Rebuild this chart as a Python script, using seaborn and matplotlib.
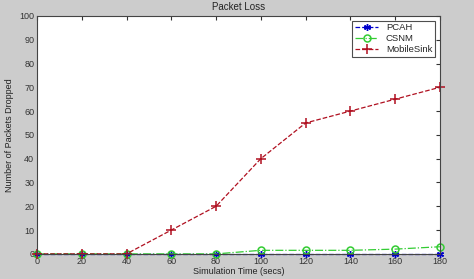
import matplotlib
matplotlib.use("Agg")
import matplotlib.pyplot as plt
import seaborn as sns
import pandas as pd

# data
sim_time = [0, 20, 40, 60, 80, 100, 120, 140, 160, 180]
pcah = [0, 0, 0, 0, 0, 0, 0, 0, 0, 0]
csnm = [0, 0, 0, 0, 0, 1.5, 1.5, 1.5, 2, 3]
mobile_sink = [0, 0, 0, 10, 20, 40, 55, 60, 65, 70]

sns.set_style("white")
plt.rcParams['font.family'] = ['Liberation Sans', 'DejaVu Sans']

df = pd.DataFrame({"time": sim_time, "PCAH": pcah, "CSNM": csnm, "MobileSink": mobile_sink})

fig = plt.figure(figsize=(4.74, 2.79), dpi=100, facecolor="#cccccc")
ax = fig.add_axes([0.078, 0.09, 0.85, 0.853])

sns.lineplot(data=df, x="time", y="PCAH", ax=ax, color="#0000cc", linestyle="--",
             marker=(6, 2, 0), markersize=5, markeredgewidth=1.0, markeredgecolor="#0000cc",
             lw=0.9, label="PCAH", clip_on=False)
sns.lineplot(data=df, x="time", y="CSNM", ax=ax, color="#33cc33", linestyle="-.",
             marker="o", markersize=5, markerfacecolor="none", markeredgewidth=1.1,
             markeredgecolor="#33cc33", lw=0.9, label="CSNM", clip_on=False)
sns.lineplot(data=df, x="time", y="MobileSink", ax=ax, color="#b01020", linestyle="--",
             marker="+", markersize=6.5, markeredgewidth=1.1, markeredgecolor="#b01020",
             lw=0.9, label="MobileSink", clip_on=False)

ax.set_xlim(0, 180)
ax.set_ylim(0, 100)
ax.set_xticks(sim_time)
ax.set_yticks(range(0, 101, 10))
ax.tick_params(direction="in", labelsize=6.5, length=3, top=True, right=True, pad=2, colors="#333333")
for s in ax.spines.values():
    s.set_color("#444444")
    s.set_linewidth(0.8)
ax.set_title("Packet Loss", fontsize=7, pad=4, color="#222222")
ax.set_xlabel("Simulation Time (secs)", fontsize=6.5, labelpad=1, color="#222222")
ax.set_ylabel("Number of Packets Dropped", fontsize=6.5, labelpad=4, color="#222222")

leg = ax.legend(loc="upper right", fontsize=6.8, frameon=True, fancybox=False,
                edgecolor="#222222", borderpad=0.3, labelspacing=0.2, handlelength=2.5,
                borderaxespad=0.5)
leg.get_frame().set_linewidth(0.8)

plt.savefig("out.png", dpi=100, facecolor=fig.get_facecolor())
